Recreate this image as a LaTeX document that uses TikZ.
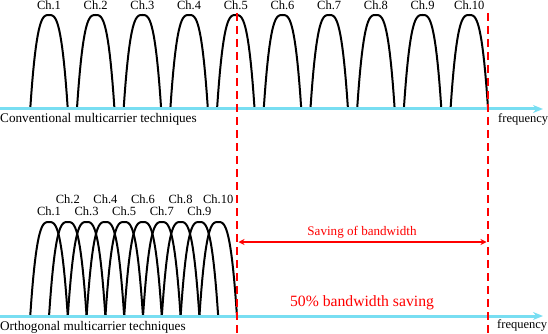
\documentclass[tikz,border=0pt]{standalone}
\usepackage{fontspec}
\setmainfont{Liberation Serif}
\usetikzlibrary{arrows.meta}
\definecolor{axiscyan}{RGB}{120,222,242}
\begin{document}
\begin{tikzpicture}[x=1pt, y=-1pt, >={Stealth[length=10pt,width=8pt]}, font=\fontsize{12.5}{14}\selectfont,
        lobe/.style={line width=2pt},
        axis/.style={->, axiscyan, line width=3pt},
        edgeline/.style={red, line width=2.5pt, dash pattern=on 8pt off 5pt},
        chlabel/.style={anchor=base, inner sep=0pt},
        caption/.style={anchor=base west, inner sep=0pt, font=\fontsize{13.2}{15}\selectfont}]
        \useasboundingbox (0,0) rectangle (548,334);

        % Conventional channels
        \foreach \i in {1,...,10} {
            \pgfmathsetmacro{\cx}{49+46.7*(\i-1)}
            \draw[lobe] plot[domain=-1:1, samples=41] ({\cx+18.7*\x}, {108-93*(1-abs(\x)^3)});
            \node[chlabel] (conv\i) at (\cx, 9.5) {Ch.\i};
        }

        % Orthogonal channels
        \foreach \i in {1,...,10} {
            \pgfmathsetmacro{\cx}{49+18.8*(\i-1)}
            \pgfmathsetmacro{\ly}{isodd(\i) ? 215 : 203}
            \draw[lobe] plot[domain=-1:1, samples=41] ({\cx+18.7*\x}, {315-93*(1-abs(\x)^3)});
            \node[chlabel] (orth\i) at (\cx, \ly) {Ch.\i};
        }

        % Frequency axes
        \coordinate (topstart) at (0,109);
        \coordinate (topend) at (543,109);
        \coordinate (botstart) at (0,316);
        \coordinate (botend) at (543,316);
        \draw[axis] (topstart) -- (topend);
        \draw[axis] (botstart) -- (botend);

        \node[caption] (convtext) at (0,122.5) {Conventional multicarrier techniques};
        \node[caption] (orthtext) at (0,330) {Orthogonal multicarrier techniques};
        \node[anchor=base west, inner sep=0pt] (freqtop) at (498,122) {frequency};
        \node[anchor=base west, inner sep=0pt] (freqbot) at (497,328) {frequency};

        % Band edges
        \coordinate (lefttop) at (237,13);
        \coordinate (leftbot) at (237,334);
        \coordinate (righttop) at (488,13);
        \coordinate (rightbot) at (488,334);
        \draw[edgeline] (lefttop) -- (leftbot);
        \draw[edgeline] (righttop) -- (rightbot);

        % Saving
        \coordinate (saveleft) at (238.5,242);
        \coordinate (saveright) at (486.5,242);
        \draw[<->, >={Stealth[length=6pt,width=6pt]}, red, line width=2pt] (saveleft) -- (saveright);
        \node[anchor=base, red, inner sep=0pt, font=\fontsize{13.1}{15}\selectfont] (savetext) at (362,235) {Saving of bandwidth};
        \node[anchor=base, red, inner sep=0pt, font=\fontsize{15.7}{18}\selectfont] (fifty) at (362,306) {50\% bandwidth saving};
    \end{tikzpicture}
\end{document}
